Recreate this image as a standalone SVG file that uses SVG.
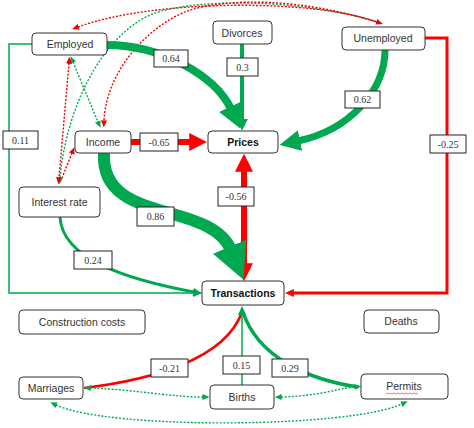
<svg xmlns="http://www.w3.org/2000/svg" width="474" height="428" viewBox="0 0 474 428">
<style>
.node rect{fill:#fff;stroke:#333;stroke-width:1}
.node text{font-family:"Liberation Sans",Arial,sans-serif;font-size:10.5px;fill:#333;text-anchor:middle}
.node text.b{font-weight:bold;fill:#111}
.lab rect{fill:#fff;stroke:#222;stroke-width:1}
.lab text{font-family:"Liberation Serif","Times New Roman",serif;font-size:10px;fill:#333;text-anchor:middle}
.g{fill:none;stroke:#00A84F}
.r{fill:none;stroke:#FF0000}
.dg{fill:none;stroke:#00A84F;stroke-width:1.4;stroke-dasharray:2 1.6}
.dr{fill:none;stroke:#F00000;stroke-width:1.4;stroke-dasharray:2 1.6}
</style>
<defs>
<marker id="G" viewBox="0 0 10 10" refX="1" refY="5" markerWidth="3" markerHeight="3" orient="auto-start-reverse"><path d="M0,0L10,5L0,10z" fill="#00A84F"/></marker>
<marker id="R" viewBox="0 0 10 10" refX="1" refY="5" markerWidth="3" markerHeight="3" orient="auto-start-reverse"><path d="M0,0L10,5L0,10z" fill="#FF0000"/></marker>
<marker id="gs" viewBox="0 0 10 10" refX="1" refY="5" markerWidth="9" markerHeight="8" markerUnits="userSpaceOnUse" preserveAspectRatio="none" orient="auto-start-reverse"><path d="M0,0L10,5L0,10z" fill="#00A84F"/></marker>
<marker id="rs" viewBox="0 0 10 10" refX="1" refY="5" markerWidth="9" markerHeight="8" markerUnits="userSpaceOnUse" preserveAspectRatio="none" orient="auto-start-reverse"><path d="M0,0L10,5L0,10z" fill="#FF0000"/></marker>
<marker id="gd" viewBox="0 0 10 10" refX="1" refY="5" markerWidth="7" markerHeight="6" markerUnits="userSpaceOnUse" preserveAspectRatio="none" orient="auto-start-reverse"><path d="M0,0L10,5L0,10z" fill="#00A84F"/></marker>
<marker id="rd" viewBox="0 0 10 10" refX="1" refY="5" markerWidth="7" markerHeight="6" markerUnits="userSpaceOnUse" preserveAspectRatio="none" orient="auto-start-reverse"><path d="M0,0L10,5L0,10z" fill="#F00000"/></marker>
</defs>
<g id="connectors">
<!-- dotted web -->
<path class="dr" d="M78,27 C150,0 310,-2 377,22" marker-start="url(#rd)" marker-end="url(#rd)"/>
<path class="dg" d="M377,22 C300,-2 190,-2 150,15 C100,38 66,110 60,178" marker-end="url(#gd)"/>
<path class="dr" d="M377,22 C300,-2 230,-2 190,10 C150,24 106,70 104,121" marker-end="url(#rd)"/>
<path class="dg" d="M73,62 L98,122" marker-start="url(#gd)" marker-end="url(#gd)"/>
<path class="dr" d="M69,63 L59,178" marker-start="url(#rd)" marker-end="url(#rd)"/>
<path class="dr" d="M72,153 L62,178" marker-start="url(#rd)"/>
<!-- main arrows -->
<path class="g" stroke-width="1.5" d="M32,44 L9,44 L9,293 L194,293" marker-end="url(#gs)"/>
<path class="g" stroke-width="3" d="M60,217 C62,260 130,280 194,292" marker-end="url(#gs)"/>
<path class="r" stroke-width="3" d="M425,38 L447,38 L447,293 L293,293" marker-end="url(#rs)"/>
<path class="g" stroke-width="8" d="M107,45 C160,45 215,75 231,109" marker-end="url(#G)"/>
<path class="g" stroke-width="4" d="M242,44 L242,120" marker-end="url(#G)"/>
<path class="g" stroke-width="7" d="M385,50 C385,90 350,130 298,141" marker-end="url(#G)"/>
<path class="r" stroke-width="6" d="M131,142 L191,142" marker-end="url(#R)"/>
<path class="r" stroke-width="6" d="M244,170 L244,265" marker-start="url(#R)" marker-end="url(#R)"/>
<path class="g" stroke-width="12" d="M104,153 C100,225 210,200 231,250" marker-end="url(#G)"/>
<!-- bottom -->
<path class="r" stroke-width="2.5" d="M84,388 C150,380 225,360 242,312"/>
<path class="g" stroke-width="3.5" d="M358,387 C310,380 258,358 243,312"/>
<path class="g" stroke-width="1.5" d="M242,385 L242,314" marker-end="url(#gs)"/>
<path class="dg" d="M90,388 C140,390 170,397 203,397" marker-start="url(#gd)" marker-end="url(#gd)"/>
<path class="dg" d="M281,397 C320,396 335,389 355,387" marker-start="url(#gd)" marker-end="url(#gd)"/>
<path class="dg" d="M56,405 C110,430 350,428 402,404" marker-start="url(#gd)" marker-end="url(#gd)"/>
</g>
<g id="employed" class="node"><rect x="32" y="33" width="75" height="22" rx="4"/><text x="70" y="48">Employed</text></g>
<g id="divorces" class="node"><rect x="213" y="21" width="59" height="23" rx="4"/><text x="242" y="36.5">Divorces</text></g>
<g id="unemployed" class="node"><rect x="342" y="27" width="83" height="23" rx="4"/><text x="383" y="42">Unemployed</text></g>
<g id="income" class="node"><rect x="75" y="131" width="56" height="22" rx="4"/><text x="103" y="146">Income</text></g>
<g id="prices" class="node"><rect x="208" y="131" width="70" height="22" rx="4"/><text class="b" x="243" y="146">Prices</text></g>
<g id="interest-rate" class="node"><rect x="19" y="187" width="81" height="30" rx="4"/><text x="59.5" y="205.5">Interest rate</text></g>
<g id="transactions" class="node"><rect x="202" y="281" width="82" height="24" rx="4"/><text class="b" x="243" y="296.5">Transactions</text></g>
<g id="construction-costs" class="node"><rect x="19" y="310" width="126" height="24" rx="4"/><text x="82" y="325.5">Construction costs</text></g>
<g id="deaths" class="node"><rect x="364" y="310" width="75" height="23" rx="4"/><text x="401" y="325">Deaths</text></g>
<g id="marriages" class="node"><rect x="19" y="377" width="64" height="22" rx="4"/><text x="51" y="392">Marriages</text></g>
<g id="births" class="node"><rect x="210" y="385" width="64" height="24" rx="4"/><text x="242" y="400.5">Births</text></g>
<g id="permits" class="node"><rect x="361" y="374" width="87" height="25" rx="4"/><text x="404" y="389.5">Permits</text><path d="M386,393 l2,1 l2,-1 l2,1 l2,-1 l2,1 l2,-1 l2,1 l2,-1 l2,1 l2,-1 l2,1 l2,-1 l2,1 l2,-1 l2,1 l2,-1" fill="none" stroke="#E04040" stroke-width="0.7"/></g>
<g id="labels" class="lab">
<g><rect x="154" y="50" width="34" height="17"/><text x="171" y="62">0.64</text></g>
<g><rect x="227" y="58" width="31" height="18"/><text x="242.5" y="70.5">0.3</text></g>
<g><rect x="345" y="91" width="35" height="17"/><text x="362.5" y="103">0.62</text></g>
<g><rect x="140" y="133" width="38" height="18"/><text x="159" y="145.5">-0.65</text></g>
<g><rect x="218" y="187" width="36" height="19"/><text x="236" y="200">-0.56</text></g>
<g><rect x="3" y="131" width="35" height="18"/><text x="20.5" y="143.5">0.11</text></g>
<g><rect x="430" y="135" width="36" height="18"/><text x="448" y="147.5">-0.25</text></g>
<g><rect x="137" y="207" width="37" height="19"/><text x="155.5" y="220">0.86</text></g>
<g><rect x="74" y="251" width="38" height="18"/><text x="93" y="263.5">0.24</text></g>
<g><rect x="151" y="359" width="37" height="18"/><text x="169.5" y="371.5">-0.21</text></g>
<g><rect x="223" y="356" width="37" height="18"/><text x="241.5" y="368.5">0.15</text></g>
<g><rect x="272" y="359" width="36" height="18"/><text x="290" y="371.5">0.29</text></g>
</g>
</svg>
